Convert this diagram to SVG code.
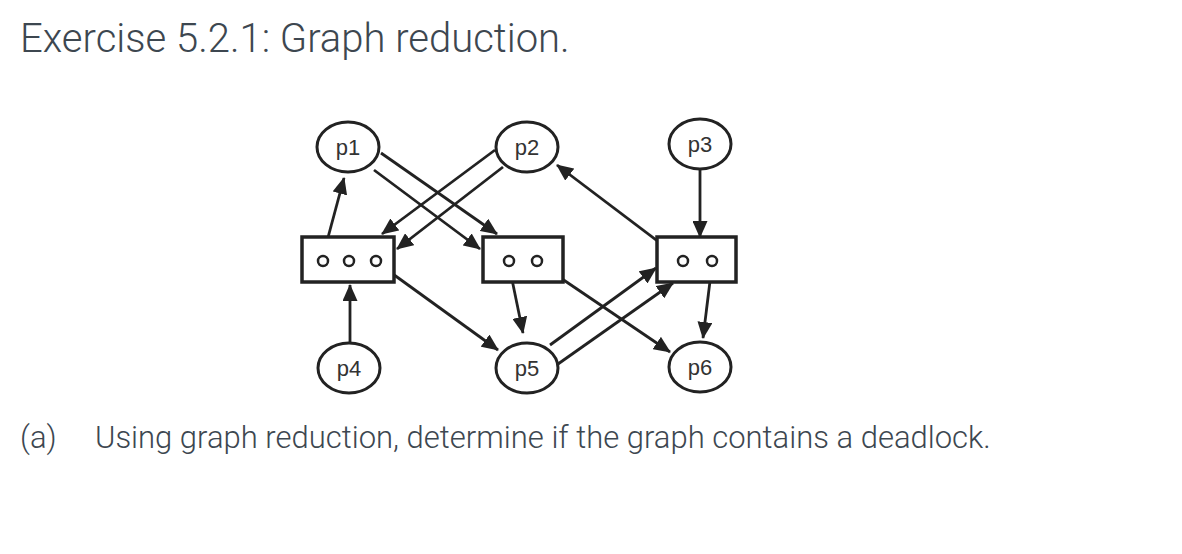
<svg xmlns="http://www.w3.org/2000/svg" width="1182" height="554" viewBox="0 0 1182 554">
<style>
.t{font-family:Roboto,"Liberation Sans",sans-serif;fill:#3d4750;font-weight:300}
.n ellipse{fill:#fff;stroke:#222;stroke-width:3}
.n text{font-family:"Liberation Sans",Arial,sans-serif;font-size:22px;fill:#333;text-anchor:middle}
.r rect{fill:#fff;stroke:#222;stroke-width:3.5}
.r circle{fill:#fff;stroke:#222;stroke-width:2.5}
#edges line{stroke:#222;stroke-width:2.8;marker-end:url(#a)}
</style>
<defs><marker id="a" markerUnits="userSpaceOnUse" markerWidth="17" markerHeight="15" refX="16" refY="7.5" orient="auto"><path d="M0,0L17,7.5L0,15z" fill="#222"/></marker></defs>
<rect width="1182" height="554" fill="#fff"/>
<text class="t" x="20" y="52" font-size="40">Exercise 5.2.1: Graph reduction.</text>
<text class="t" x="20" y="448" font-size="31">(a)</text>
<text class="t" x="95" y="448" font-size="31">Using graph reduction, determine if the graph contains a deadlock.</text>
<g id="edges">
<line x1="323" y1="256" x2="344" y2="178"/>
<line x1="350" y1="343" x2="350" y2="285"/>
<line x1="381" y1="153" x2="497" y2="234"/>
<line x1="374" y1="170" x2="480" y2="249"/>
<line x1="495" y1="150" x2="382" y2="234"/>
<line x1="503" y1="167" x2="397" y2="249"/>
<line x1="379" y1="264" x2="498" y2="350"/>
<line x1="509" y1="265" x2="523" y2="333"/>
<line x1="540" y1="264" x2="670" y2="352"/>
<line x1="550" y1="345" x2="656" y2="268"/>
<line x1="558" y1="364" x2="673" y2="283"/>
<line x1="680" y1="258" x2="557" y2="165"/>
<line x1="700" y1="168" x2="700" y2="237"/>
<line x1="712" y1="265" x2="703" y2="338"/>
</g>
<g id="R1" class="r"><rect x="302" y="237" width="92" height="45"/><circle cx="323" cy="261" r="5"/><circle cx="349" cy="261" r="5"/><circle cx="376" cy="261" r="5"/></g>
<g id="R2" class="r"><rect x="483" y="237" width="80" height="45"/><circle cx="509" cy="261" r="5"/><circle cx="537" cy="261" r="5"/></g>
<g id="R3" class="r"><rect x="657" y="237" width="79" height="45"/><circle cx="683" cy="261" r="5"/><circle cx="712" cy="261" r="5"/></g>
<g id="p1" class="n"><ellipse cx="348" cy="147" rx="31" ry="25"/><text x="348" y="155">p1</text></g>
<g id="p2" class="n"><ellipse cx="527" cy="147" rx="31" ry="25"/><text x="527" y="155">p2</text></g>
<g id="p3" class="n"><ellipse cx="700" cy="144" rx="31" ry="25"/><text x="700" y="152">p3</text></g>
<g id="p4" class="n"><ellipse cx="349" cy="368" rx="31" ry="25"/><text x="349" y="376">p4</text></g>
<g id="p5" class="n"><ellipse cx="527" cy="368" rx="31" ry="25"/><text x="527" y="376">p5</text></g>
<g id="p6" class="n"><ellipse cx="700" cy="367" rx="31" ry="25"/><text x="700" y="375">p6</text></g>
</svg>
